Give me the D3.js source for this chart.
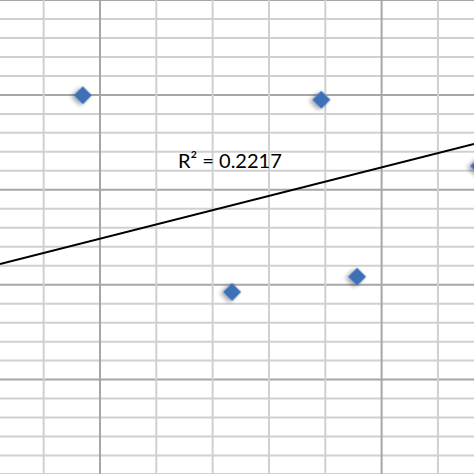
<!DOCTYPE html>
<html>
<head>
<meta charset="utf-8">
<script src="https://cdn.jsdelivr.net/npm/d3@7"></script>
<style>
  html, body { margin: 0; padding: 0; background: #fff; }
  svg { display: block; }
</style>
</head>
<body>
<script>
// visible window of the scatter (the chart is cropped to its plot area)
var xDomain = [0.645, 2.328],
    yDomain = [0, 5];

// gridline ticks
var xTicks = d3.range(0.6, 2.41, 0.2),
    yTicks = d3.range(0, 5.01, 0.2);

// series
var xValues = [0.939, 1.469, 1.786, 1.913, 2.346],
    yValues = [3.996, 1.923, 3.949, 2.084, 3.25];

// linear trend line
var trendSlope = 0.7516,
    trendIntercept = 1.733,
    rSquared = "0.2217";

var width = 474,
    height = 474;

var x = d3.scaleLinear().domain(xDomain).range([0, width]),
    y = d3.scaleLinear().domain(yDomain).range([474.5, 0]);

var svg = d3.select("body").append("svg")
    .attr("width", width)
    .attr("height", height);

var defs = svg.append("defs");
var shadow = defs.append("filter")
    .attr("id", "shadow")
    .attr("x", "-50%").attr("y", "-50%")
    .attr("width", "200%").attr("height", "200%");
shadow.append("feDropShadow")
    .attr("dx", -1).attr("dy", 3)
    .attr("stdDeviation", 2)
    .attr("flood-color", "#000")
    .attr("flood-opacity", 0.35);

function isMajor(v) {
    return Math.abs(v - Math.round(v)) < 1e-6;
}

// horizontal gridlines
svg.append("g").selectAll("line")
    .data(yTicks)
  .enter().append("line")
    .attr("x1", 0).attr("x2", width)
    .attr("y1", function(d) { return y(d); })
    .attr("y2", function(d) { return y(d); })
    .attr("stroke", function(d) { return isMajor(d) ? "#a6a6a6" : "#d0d0d0"; })
    .attr("stroke-width", 2);

// vertical gridlines
svg.append("g").selectAll("line")
    .data(xTicks)
  .enter().append("line")
    .attr("y1", 0).attr("y2", height)
    .attr("x1", function(d) { return x(d); })
    .attr("x2", function(d) { return x(d); })
    .attr("stroke", function(d) { return isMajor(d) ? "#a6a6a6" : "#d0d0d0"; })
    .attr("stroke-width", 2);

// trend line
var trend = xDomain.map(function(v) { return [v, trendIntercept + trendSlope * v]; });
svg.append("path")
    .datum(trend)
    .attr("d", d3.line()
        .x(function(d) { return x(d[0]); })
        .y(function(d) { return y(d[1]); }))
    .attr("fill", "none")
    .attr("stroke", "#000")
    .attr("stroke-width", 2);

// points
var points = xValues.map(function(v, i) { return [v, yValues[i]]; });
svg.append("g").selectAll("path")
    .data(points)
  .enter().append("path")
    .attr("transform", function(d) { return "translate(" + x(d[0]) + "," + y(d[1]) + ") rotate(45)"; })
    .attr("d", d3.symbol().type(d3.symbolSquare).size(165))
    .attr("fill", "#3d6fb6")
    .attr("filter", "url(#shadow)");

// R² label
svg.append("text")
    .attr("x", 178)
    .attr("y", 168)
    .attr("font-family", "Lato, 'Open Sans', sans-serif")
    .attr("font-size", 20)
    .attr("fill", "#000")
    .text("R² = " + rSquared);
</script>
</body>
</html>
